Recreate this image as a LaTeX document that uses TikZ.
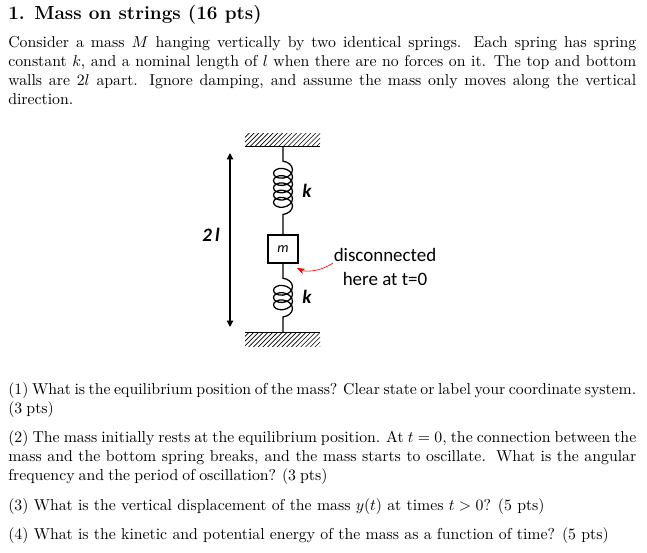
\documentclass[tikz,border=0pt]{standalone}
\usepackage{fontspec}
\newfontfamily\carl{Carlito}
\usetikzlibrary{patterns,decorations.pathmorphing,arrows.meta}
\begin{document}
\begin{tikzpicture}[x=0.633pt,y=-0.633pt,
  para/.style={anchor=north west,text width=397.5pt,align=justify,inner sep=0pt,font=\normalsize},
  spr/.style={line width=0.8pt,decorate,decoration={coil,aspect=0.7,amplitude=6pt,segment length=4.6pt,pre length=9pt,post length=8pt}},
  lbl/.style={font=\carl\bfseries\itshape\large}]
\useasboundingbox (0,0) rectangle (647,553);
\node[anchor=west,inner sep=0pt,font=\large\bfseries] (title) at (8,15) {1. Mass on strings (16 pts)};
\node[para] (intro) at (8,36) {Consider a mass $M$ hanging vertically by two identical springs. Each spring has spring constant $k$, and a nominal length of $l$ when there are no forces on it. The top and bottom walls are $2l$ apart. Ignore damping, and assume the mass only moves along the vertical direction.};
% walls
\fill[pattern=north east lines] (245,133) rectangle (320,146);
\draw[line width=1.2pt] (245,146.5) -- (320,146.5);
\fill[pattern=north east lines] (245,333) rectangle (320,346);
\draw[line width=1.2pt] (245,332.5) -- (320,332.5);
\coordinate (tw) at (283,147);
\coordinate (bw) at (283,332);
\node[draw,line width=1pt,minimum width=19pt,minimum height=18pt,inner sep=0pt,font=\carl\itshape\small] (m) at (283,249) {m};
\draw[spr] (tw) -- (m.north);
\draw[spr] (m.south) -- (bw);
\coordinate (at) at (230,153);
\coordinate (ab) at (230,327);
\draw[{Triangle[length=4pt,width=4pt]}-{Triangle[length=4pt,width=4pt]},line width=0.8pt] (at) -- (ab);
\node[lbl] (l2) at (211,235) {2\,l};
\node[lbl] (k1) at (307,191) {k};
\node[lbl] (k2) at (307,297) {k};
\node[font=\carl\large,align=center,inner sep=0pt] (dc) at (385,267) {disconnected\\[1pt]here at t=0};
\draw[red,-{Stealth[length=5pt]}] (333,263) .. controls (320,272) and (305,272) .. (297,268);
% questions
\node[para] (q1) at (8,382) {\spaceskip=2.6pt plus 1pt minus 1.2pt (1) What is the equilibrium position of the mass? Clear state or label your coordinate system.\\(3 pts)};
\node[para] (q2) at (8,430) {\spaceskip=2.6pt plus 1.5pt minus 1.2pt (2) The mass initially rests at the equilibrium position. At $t=0$, the connection between the\linebreak mass and the bottom spring breaks, and the mass starts to oscillate. What is the angular frequency and the period of oscillation? (3 pts)};
\node[para] (q3) at (8,498) {(3) What is the vertical displacement of the mass $y(t)$ at times $t>0$? (5 pts)};
\node[para] (q4) at (8,527) {(4) What is the kinetic and potential energy of the mass as a function of time? (5 pts)};
\end{tikzpicture}
\end{document}
